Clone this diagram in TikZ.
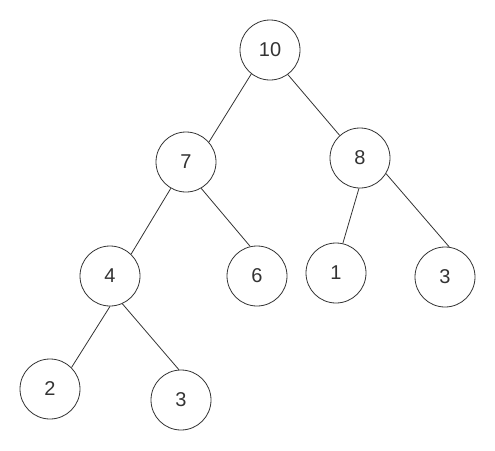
\documentclass[tikz,border=0pt]{standalone}
\usepackage{fontspec}
\setmainfont{Liberation Sans}
\definecolor{InkGray}{HTML}{333333}

\begin{document}
\begin{tikzpicture}[x=1pt, y=-1pt,
    heapnode/.style={circle, draw=InkGray, line width=0.8pt, minimum size=60pt,
      inner sep=0pt, text=InkGray, font=\fontsize{20}{24}\selectfont},
    heapedge/.style={draw=InkGray, line width=0.8pt}]
  \useasboundingbox (0,0) rectangle (495,450);

  % Nodes (heap levels)
  \node[heapnode] (n10) at (270,50)  {10};
  \node[heapnode] (n7)  at (186,162) {7};
  \node[heapnode] (n8)  at (360,158) {8};
  \node[heapnode] (n4)  at (110,276) {4};
  \node[heapnode] (n6)  at (257,276) {6};
  \node[heapnode] (n1)  at (336,273) {1};
  \node[heapnode] (n3r) at (445,277) {3};
  \node[heapnode] (n2)  at (50,389)  {2};
  \node[heapnode] (n3b) at (181,400) {3};

  % Edges (hand-placed anchors, as in the sketch)
  \draw[heapedge] (n10.232) -- (n7.41);
  \draw[heapedge] (n10.306) -- (n8.132);
  \draw[heapedge] (n7.240)  -- (n4.46);
  \draw[heapedge] (n7.300)  -- (n6.103);
  \draw[heapedge] (n8.268)  -- (n1.77);
  \draw[heapedge] (n8.329)  -- (n3r.82);
  \draw[heapedge] (n4.270)  -- (n2.45);
  \draw[heapedge] (n4.294)  -- (n3b.94);
\end{tikzpicture}
\end{document}
